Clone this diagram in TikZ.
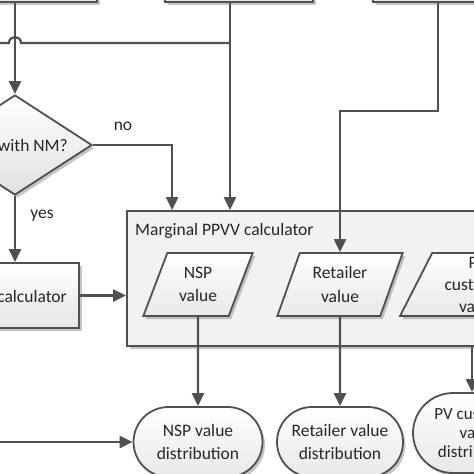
\documentclass[tikz,border=0pt]{standalone}
\usepackage{fontspec}
\setmainfont{Carlito}
\usetikzlibrary{shapes.geometric,shapes.misc,arrows.meta,shadows,positioning}
\begin{document}
\begin{tikzpicture}[x=1pt,y=-1pt,
    font=\fontsize{17.5}{23.5}\selectfont,
    line/.style={draw=lngray, line width=2.2pt},
    flow/.style={line, -{Triangle[length=13pt,width=12pt]}},
    shadowed/.style={draw=lngray, line width=1.8pt, text=txtgray, inner sep=0pt, align=center,
        drop shadow={shadow xshift=2.5pt, shadow yshift=-3pt, fill=black!50, opacity=.45}},
    procbox/.style={shadowed, rectangle, top color=white, bottom color=black!10},
    groupbox/.style={shadowed, rectangle, fill=black!5},
    iobox/.style={shadowed, trapezium, trapezium left angle=67, trapezium right angle=113,
        trapezium stretches=true, minimum height=63pt, top color=white, bottom color=black!9},
    decbox/.style={shadowed, diamond, top color=white, bottom color=black!12},
    termbox/.style={shadowed, rounded rectangle, top color=white, bottom color=black!9},
    lbl/.style={text=txtgray, inner sep=0pt}]
    \definecolor{lngray}{HTML}{505050}
    \definecolor{txtgray}{HTML}{262626}
    \useasboundingbox (0,0) rectangle (474,474);
    \clip (0,0) rectangle (474,474);
    \node[procbox, minimum width=217pt, minimum height=42pt] (srcA) at (-11.5,-19) {};
    \node[procbox, minimum width=148pt, minimum height=42pt] (srcB) at (239,-19) {};
    \node[procbox, minimum width=187pt, minimum height=42pt] (srcC) at (466.5,-19) {};
    \coordinate (outA) at (15,2);
    \coordinate (outB) at (230,2);
    \coordinate (outC) at (438,2);
    \coordinate (bendC) at (438,111);
    \coordinate (hop) at (15,43);
    \node[decbox, minimum width=154pt, minimum height=100pt] (nm) at (15,145) {};
    \node[lbl, anchor=east] (nmtext) at (68,145) {with NM?};
    \node[procbox, minimum width=179pt, minimum height=65pt] (calc) at (-10.5,295.5) {};
    \node[lbl, anchor=east] (calctext) at (67,296) {calculator};
    \node[groupbox, minimum width=513pt, minimum height=135pt] (marg) at (383.5,278.5) {};
    \node[lbl, anchor=west] (margtitle) at (135,231) {Marginal PPVV calculator};
    \node[iobox, minimum width=110pt] (nsp) at (198,284.5) {NSP\\value};
    \node[iobox, minimum width=126pt] (ret) at (340,284.5) {Retailer\\value};
    \node[iobox, minimum width=156pt, font=\fontsize{17.5}{22}\selectfont] (pvc) at (478,284.5) {PV\\customer\\value};
    \node[termbox, minimum width=129pt, minimum height=70pt] (nspdist) at (198,442) {NSP value\\distribution};
    \node[termbox, minimum width=126pt, minimum height=70pt] (retdist) at (340,442) {Retailer value\\distribution};
    \node[termbox, minimum width=130pt, minimum height=80pt, font=\fontsize{17}{19}\selectfont] (pvdist) at (478,433) {PV customer\\value\\distribution};
    \path (marg.north west) ++(46,0) coordinate (noin);
    \path (pvdist.north) ++(-6,0) coordinate (pvin);
    \coordinate (lin) at (-10,442);
    \draw[flow] (outA) -- (nm.north);
    \draw[flow] (outB) -- (outB |- marg.north);
    \draw[flow] (outC) -- (bendC) -| (ret.north);
    \draw[line] (outB |- hop) -- ([xshift=6pt]hop) .. controls ([xshift=6pt,yshift=8pt]hop) and ([xshift=-6pt,yshift=8pt]hop) .. ([xshift=-6pt]hop) -- ([xshift=-30pt]hop);
    \draw[flow] (nm.east) -| (noin);
    \node[lbl] (nolbl) at (123,126) {no};
    \draw[flow] (nm.south) -- (nm.south |- calc.north);
    \node[lbl] (yeslbl) at (42,216) {yes};
    \draw[flow] (calc.east) -- (calc.east -| marg.west);
    \draw[flow] (nsp.south) -- (nspdist.north);
    \draw[flow] (ret.south) -- (retdist.north);
    \draw[flow] (pvin |- marg.south) -- (pvin);
    \draw[flow] (lin) -- (nspdist.west);
\end{tikzpicture}
\end{document}
